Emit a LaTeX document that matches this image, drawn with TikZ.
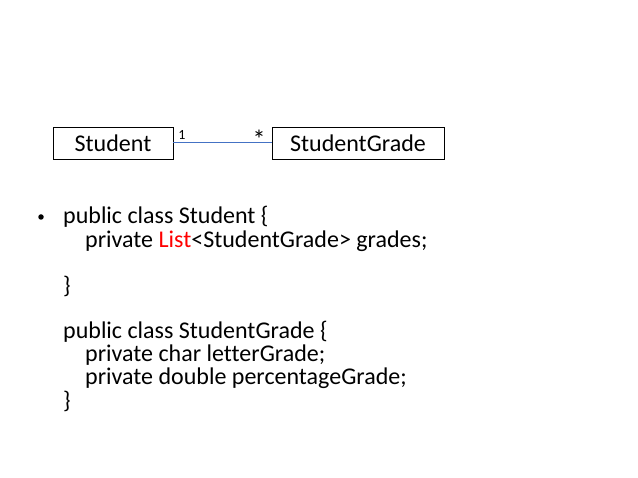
\documentclass[tikz,border=0pt]{standalone}
\usepackage{fontspec}
\setmainfont{Carlito}[Ligatures=NoCommon]
\begin{document}
\begin{tikzpicture}[x=1pt,y=-1pt,
  cls/.style={draw=black,line width=0.8pt,minimum height=32pt,inner sep=0pt,font=\fontsize{24}{28}\selectfont},
  code/.style={anchor=base west,inner sep=0pt,font=\fontsize{24}{28}\selectfont},
  mult/.style={inner sep=0pt,font=\fontsize{14}{16}\selectfont}]
\useasboundingbox[fill=white] (0,0) rectangle (638,478);
\node[cls,minimum width=120pt] (student) at (113,143) {Student};
\node[cls,minimum width=172pt] (grade) at (358,143) {StudentGrade};
\draw[color={rgb,255:red,68;green,114;blue,196},line width=1pt] (student.east) -- (grade.west);
\node[mult,anchor=base] (one) at (182,139.5) {1};
\node[inner sep=0pt,anchor=base,font=\fontsize{26}{28}\selectfont] (star) at (259,149) {*};
\node[circle,fill=black,inner sep=0pt,minimum size=5.5pt] (bullet) at (41,217) {};
\node[code] (l1) at (63,224) {public class Student \{};
\node[code] (l2) at (85,248) {private \textcolor{red}{List}<StudentGrade> grades;};
\node[code] (l3) at (63,293.5) {\}};
\node[code] (l4) at (63,339) {public class StudentGrade \{};
\node[code] (l5) at (85,362) {private char letterGrade;};
\node[code] (l6) at (85,385) {private double percentageGrade;};
\node[code] (l7) at (63,408.5) {\}};
\end{tikzpicture}
\end{document}
